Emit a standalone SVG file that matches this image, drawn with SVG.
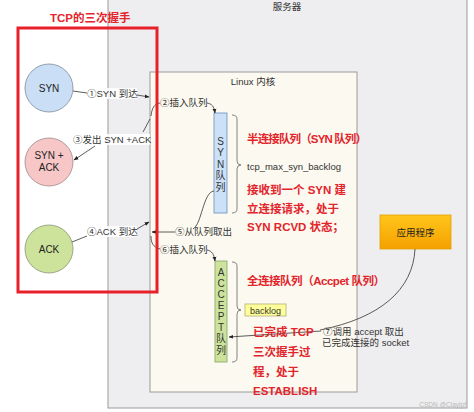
<svg xmlns="http://www.w3.org/2000/svg" width="474" height="412" viewBox="0 0 474 412">
<style>
.lbl{font-family:"Liberation Sans","Noto Sans CJK SC",sans-serif;font-size:9.5px;fill:#333}
.red{font-family:"Liberation Sans","Noto Sans CJK SC",sans-serif;font-size:11.5px;font-weight:bold;fill:#e3242b}
.node{font-family:"Liberation Sans","Noto Sans CJK SC",sans-serif;font-size:10px;fill:#222;text-anchor:middle}
.q{font-family:"Liberation Sans","Noto Sans CJK SC",sans-serif;font-size:10px;fill:#333;text-anchor:middle}
.ln{fill:none;stroke:#333;stroke-width:0.8}
.br{fill:none;stroke:#666;stroke-width:0.8}
</style>
<defs>
<marker id="ah" viewBox="0 0 10 10" refX="9" refY="5" markerWidth="6" markerHeight="6" orient="auto">
<path d="M0,1 L10,5 L0,9 Z" fill="#222"/>
</marker>
<linearGradient id="og" x1="0" y1="0" x2="0" y2="1">
<stop offset="0" stop-color="#ffc61a"/>
<stop offset="1" stop-color="#f5a000"/>
</linearGradient>
</defs>
<rect x="0" y="0" width="474" height="412" fill="#ffffff"/>
<g id="server">
<rect x="108" y="-2" width="359" height="410" fill="#eeeef0" stroke="#9a9a9a" stroke-width="1"/>
<text x="287" y="10" class="lbl" text-anchor="middle">服务器</text>
</g>
<g id="kernel">
<rect x="150" y="72" width="207" height="320" fill="#fbf9f0" stroke="#9a9a9a" stroke-width="1"/>
<text x="253" y="85" class="lbl" text-anchor="middle">Linux 内核</text>
</g>
<g id="syn">
<circle cx="49" cy="88" r="24" fill="#cadff5" stroke="#7d8a99" stroke-width="0.8"/>
<text x="49" y="92" class="node">SYN</text>
</g>
<g id="synack">
<circle cx="49" cy="162" r="24" fill="#f7c7c7" stroke="#a08888" stroke-width="0.8"/>
<text x="49" y="159" class="node">SYN +</text>
<text x="49" y="171" class="node">ACK</text>
</g>
<g id="ack">
<circle cx="49" cy="249" r="24" fill="#cde39b" stroke="#88957a" stroke-width="0.8"/>
<text x="49" y="253" class="node">ACK</text>
</g>
<g id="synqueue">
<rect x="214" y="113" width="13" height="100" fill="#cce0f7" stroke="#6c8ebf" stroke-width="0.8"/>
<text class="q" x="220.5" y="145">S</text>
<text class="q" x="220.5" y="156">Y</text>
<text class="q" x="220.5" y="168">N</text>
<text class="q" x="220.5" y="179">队</text>
<text class="q" x="220.5" y="191">列</text>
<path class="br" d="M232,115 Q237,115 237,119 L237,161 Q237,165 241,165 Q237,165 237,169 L237,209 Q237,213 232,213"/>
<text x="247" y="170" class="lbl">tcp_max_syn_backlog</text>
</g>
<g id="acceptqueue">
<rect x="215" y="261" width="12" height="101" fill="#cde39b" stroke="#82a366" stroke-width="0.8"/>
<text class="q" x="221" y="276">A</text>
<text class="q" x="221" y="287">C</text>
<text class="q" x="221" y="298">C</text>
<text class="q" x="221" y="309">E</text>
<text class="q" x="221" y="320">P</text>
<text class="q" x="221" y="331">T</text>
<text class="q" x="221" y="342">队</text>
<text class="q" x="221" y="354">列</text>
<path class="br" d="M232,262 Q237,262 237,266 L237,306 Q237,310 241,310 Q237,310 237,314 L237,358 Q237,362 232,362"/>
</g>
<g id="backlog">
<rect x="245" y="304" width="41" height="12" fill="#ffff99" stroke="#b5b07a" stroke-width="0.8"/>
<text x="265.5" y="313.5" class="lbl" text-anchor="middle" style="font-size:9px">backlog</text>
</g>
<g id="app">
<rect x="380" y="215" width="71" height="34" fill="url(#og)" stroke="#e0a000" stroke-width="0.8"/>
<text x="415.5" y="235.5" class="node" style="font-size:9.5px">应用程序</text>
</g>
<g id="connectors">
<path class="ln" d="M73,91 L87,93"/>
<path class="ln" d="M137,95 L149,97" marker-end="url(#ah)"/>
<path class="ln" d="M151,116 C152,108 154,104 160,103"/>
<path class="ln" d="M207,103 C212,104 214,106 215,113" marker-end="url(#ah)"/>
<path class="ln" d="M150,119 L143,132"/>
<path class="ln" d="M95,146 L74,160" marker-end="url(#ah)"/>
<path class="ln" d="M72,242 L87,236"/>
<path class="ln" d="M137,229 L149,222" marker-end="url(#ah)"/>
<path class="ln" d="M214,191 C203,192 202,224 193,229"/>
<path class="ln" d="M175,232 L152,232" marker-end="url(#ah)"/>
<path class="ln" d="M151,236 C151,243 153,247 160,249"/>
<path class="ln" d="M207,250 C212,251 214,254 215,261" marker-end="url(#ah)"/>
<path class="ln" d="M415,249 C413,290 380,318 320,330"/>
<path class="ln" d="M321,331 L229,337" marker-end="url(#ah)"/>
</g>
<g id="labels">
<rect x="87" y="88" width="50" height="11" fill="#ffffff" opacity="0.85"/>
<text x="87" y="97" class="lbl">①SYN 到达</text>
<text x="160" y="106" class="lbl">②插入队列</text>
<rect x="72" y="134" width="78" height="11" fill="#ffffff" opacity="0.85"/>
<text x="73" y="143" class="lbl">③发出 SYN +ACK</text>
<rect x="87" y="226" width="50" height="11" fill="#ffffff" opacity="0.85"/>
<text x="87" y="235" class="lbl">④ACK 到达</text>
<text x="175" y="235" class="lbl">⑤从队列取出</text>
<text x="160" y="253" class="lbl">⑥插入队列</text>
<text x="323" y="335" class="lbl">⑦调用 accept 取出</text>
<text x="322" y="346" class="lbl">已完成连接的 socket</text>
</g>
<g id="notes">
<text x="247" y="143" class="red" textLength="120" lengthAdjust="spacing">半连接队列（SYN 队列）</text>
<text x="247" y="194" class="red">接收到一个 SYN 建</text>
<text x="247" y="213" class="red">立连接请求，处于</text>
<text x="247" y="231" class="red">SYN  RCVD 状态；</text>
<text x="247" y="285" class="red" textLength="138" lengthAdjust="spacing">全连接队列（Accpet 队列）</text>
<text x="253" y="336" class="red">已完成 TCP</text>
<text x="253" y="356" class="red">三次握手过</text>
<text x="253" y="376" class="red">程，处于</text>
<text x="253" y="395" class="red">ESTABLISH</text>
</g>
<g id="tcp-handshake">
<rect x="18" y="28" width="139" height="264" fill="none" stroke="#e8202a" stroke-width="3"/>
<text x="50" y="22" class="red">TCP的三次握手</text>
</g>
<text x="466" y="407" text-anchor="end" style="font-family:'Liberation Sans',sans-serif;font-size:6.5px;fill:#b8b8b8">CSDN @Claylpf</text>
</svg>
